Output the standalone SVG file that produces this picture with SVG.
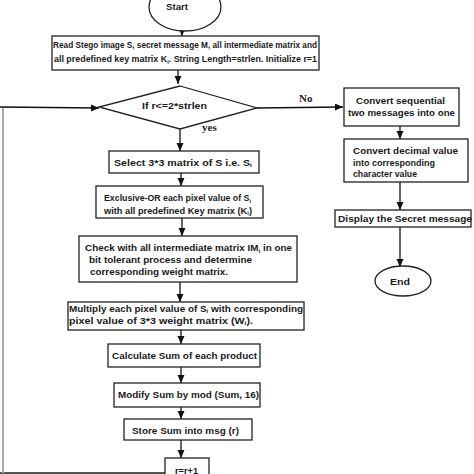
<svg xmlns="http://www.w3.org/2000/svg" width="474" height="474" viewBox="0 0 474 474">
<defs>
<marker id="ah" markerUnits="userSpaceOnUse" markerWidth="9" markerHeight="8" refX="8" refY="3.5" orient="auto">
<path d="M0,0 L8,3.5 L0,7 z" fill="#111"/>
</marker>
<style>
.b{fill:#fff;stroke:#222;stroke-width:1.3}
.t{font-family:"Liberation Sans",Arial,sans-serif;font-weight:bold;font-size:9.5px;fill:#1a1a1a}
.m{text-anchor:middle}
.s{font-family:"Liberation Serif","Times New Roman",serif;font-weight:bold;font-size:11px;fill:#222}
.c{fill:none;stroke:#111;stroke-width:1.3;marker-end:url(#ah)}
.sub{font-size:6px}
</style>
</defs>
<rect width="474" height="474" fill="#fff"/>
<g id="connectors">
<line class="c" x1="182" y1="31" x2="182" y2="36"/>
<line class="c" x1="178" y1="70" x2="178" y2="84"/>
<line class="c" x1="257" y1="108" x2="343" y2="107"/>
<line class="c" x1="180" y1="129" x2="180" y2="151"/>
<line class="c" x1="181" y1="173" x2="181" y2="186"/>
<line class="c" x1="182" y1="218" x2="182" y2="236"/>
<line class="c" x1="180" y1="282" x2="180" y2="302"/>
<line class="c" x1="181" y1="330" x2="181" y2="344"/>
<line class="c" x1="181" y1="367" x2="181" y2="383"/>
<line class="c" x1="181" y1="407" x2="181" y2="419"/>
<line class="c" x1="181" y1="440" x2="181" y2="458"/>
<line class="c" x1="400" y1="126" x2="400" y2="139"/>
<line class="c" x1="400" y1="182" x2="400" y2="210"/>
<line class="c" x1="400" y1="227" x2="400" y2="267"/>
<line x1="165" y1="473" x2="0" y2="473" stroke="#555" stroke-width="2"/>
<line x1="3" y1="473" x2="3" y2="108" stroke="#aaa" stroke-width="2"/>
<line class="c" x1="0" y1="107" x2="99" y2="108"/>
<text class="s" x="299" y="102">No</text>
<text class="s" x="202" y="131">yes</text>
</g>
<g id="start">
<ellipse class="b" cx="185" cy="7" rx="36" ry="24"/>
<text class="t m" x="177" y="10" textLength="22" lengthAdjust="spacingAndGlyphs">Start</text>
</g>
<g id="read">
<rect class="b" x="52" y="36" width="267" height="34"/>
<text class="t" x="53" y="47.5" textLength="264" lengthAdjust="spacingAndGlyphs">Read Stego image S, secret message M, all intermediate matrix and</text>
<text class="t" x="54" y="62" textLength="263" lengthAdjust="spacingAndGlyphs">all predefined key matrix K<tspan class="sub" dy="1.5">i</tspan><tspan dy="-1.5">. String Length=strlen. Initialize r=1</tspan></text>
</g>
<g id="cond">
<polygon class="b" points="180,86 257,108 180,129 99,107"/>
<text class="t" x="142" y="108.5" textLength="65" lengthAdjust="spacingAndGlyphs">If r&lt;=2*strlen</text>
</g>
<g id="convseq">
<rect class="b" x="344" y="88" width="115" height="38"/>
<text class="t" x="356" y="103.5" textLength="89" lengthAdjust="spacingAndGlyphs">Convert sequential</text>
<text class="t" x="348" y="115.5" textLength="107" lengthAdjust="spacingAndGlyphs">two messages into one</text>
</g>
<g id="convdec">
<rect class="b" x="344" y="139" width="124" height="43"/>
<text class="t" x="353" y="154" textLength="105" lengthAdjust="spacingAndGlyphs">Convert decimal value</text>
<text class="t" x="353" y="165.5" textLength="82" lengthAdjust="spacingAndGlyphs">into corresponding</text>
<text class="t" x="353" y="177" textLength="64" lengthAdjust="spacingAndGlyphs">character value</text>
</g>
<g id="display">
<rect class="b" x="335" y="210" width="136" height="17"/>
<text class="t" x="338" y="222" textLength="134" lengthAdjust="spacingAndGlyphs">Display the Secret message</text>
</g>
<g id="end">
<ellipse class="b" cx="403" cy="281" rx="28" ry="15"/>
<text class="t" x="390" y="284.5" textLength="20" lengthAdjust="spacingAndGlyphs">End</text>
</g>
<g id="select">
<rect class="b" x="109" y="151" width="150" height="22"/>
<text class="t" x="114" y="165.5" textLength="138" lengthAdjust="spacingAndGlyphs">Select 3*3 matrix of S i.e. S<tspan class="sub" dy="1.5">i</tspan></text>
</g>
<g id="xor">
<rect class="b" x="96" y="186" width="167" height="32"/>
<text class="t" x="104" y="201" textLength="147" lengthAdjust="spacingAndGlyphs">Exclusive-OR each pixel value of S<tspan class="sub" dy="1.5">i</tspan></text>
<text class="t" x="104" y="213.5" textLength="148" lengthAdjust="spacingAndGlyphs">with all predefined Key matrix (K<tspan class="sub" dy="1.5">i</tspan><tspan dy="-1.5">)</tspan></text>
</g>
<g id="check">
<rect class="b" x="79" y="236" width="218" height="46"/>
<text class="t" x="85" y="251" textLength="207" lengthAdjust="spacingAndGlyphs">Check with all intermediate matrix IM<tspan class="sub" dy="1.5">i</tspan><tspan dy="-1.5"> in one</tspan></text>
<text class="t" x="89" y="262.5" textLength="163" lengthAdjust="spacingAndGlyphs">bit tolerant process and determine</text>
<text class="t" x="90" y="275" textLength="138" lengthAdjust="spacingAndGlyphs">corresponding weight matrix.</text>
</g>
<g id="multiply">
<rect class="b" x="68" y="302" width="236" height="28"/>
<text class="t" x="69" y="311.5" textLength="234" lengthAdjust="spacingAndGlyphs">Multiply each pixel value of S<tspan class="sub" dy="1.5">i</tspan><tspan dy="-1.5"> with corresponding</tspan></text>
<text class="t" x="69" y="323.5" textLength="184" lengthAdjust="spacingAndGlyphs">pixel value of 3*3 weight matrix (W<tspan class="sub" dy="1.5">i</tspan><tspan dy="-1.5">).</tspan></text>
</g>
<g id="calc">
<rect class="b" x="108" y="344" width="152" height="23"/>
<text class="t" x="112" y="359" textLength="145" lengthAdjust="spacingAndGlyphs">Calculate Sum of each product</text>
</g>
<g id="modify">
<rect class="b" x="114" y="383" width="146" height="24"/>
<text class="t" x="118" y="397.5" textLength="141" lengthAdjust="spacingAndGlyphs">Modify Sum by mod (Sum, 16)</text>
</g>
<g id="store">
<rect class="b" x="124" y="419" width="128" height="21"/>
<text class="t" x="132" y="433.5" textLength="107" lengthAdjust="spacingAndGlyphs">Store Sum into msg (r)</text>
</g>
<g id="incr">
<rect class="b" x="165" y="458" width="44" height="20"/>
<text class="t" x="175" y="474" textLength="23" lengthAdjust="spacingAndGlyphs">r=r+1</text>
</g>
</svg>
